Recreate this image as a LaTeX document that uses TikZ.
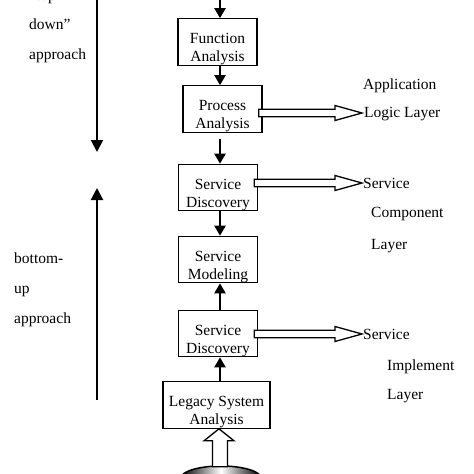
\documentclass[tikz,border=0pt]{standalone}
\usepackage{fontspec}
\setmainfont{Liberation Serif}
\usetikzlibrary{arrows.meta,calc}

\tikzset{
    box/.style={draw, line width=1.3pt, align=center, inner sep=0pt,
        minimum width=79pt, minimum height=46pt, text height=43pt},
    flow/.style={line width=2.2pt, -{Triangle[length=10pt,width=11pt]}},
    way/.style={line width=2pt, -{Triangle[length=12pt,width=12pt]}},
    hollow/.style={line width=1.3pt, fill=white},
    side/.style={anchor=base west, inner sep=0pt},
}

% wide white arrow from a box to a tip coordinate
\newcommand{\hollowto}[2]{%
    \draw[hollow] let \p1=(#1), \p2=(#2) in
        (\x1-4pt,\y2+3.7pt) -- (\x2-27pt,\y2+3.7pt) -- (\x2-27pt,\y2+7.5pt) -- (\p2)
        -- (\x2-27pt,\y2-7.5pt) -- (\x2-27pt,\y2-3.7pt) -- (\x1-4pt,\y2-3.7pt) -- cycle;}

\begin{document}
\begin{tikzpicture}[x=1pt, y=-1pt, font=\fontsize{15.5}{18}\selectfont]

    \useasboundingbox (0,0) rectangle (474,474);

    % approach arrows on the left
    \coordinate (tdtop) at (97,-10);
    \coordinate (tdend) at (97,152);
    \coordinate (bubot) at (97,400);
    \coordinate (butop) at (97,188);
    \draw[way] (tdtop) -- (tdend);
    \draw[way] (bubot) -- (butop);

    \node[side] (td1) at (29,0) {``top-};
    \node[side] (td2) at (29,29.5) {down''};
    \node[side] (td3) at (29,59.5) {approach};

    \node[side] (bu1) at (14,263) {bottom-};
    \node[side] (bu2) at (14,293) {up};
    \node[side] (bu3) at (14,323) {approach};

    % the boxes
    \node[box] (fa) at (217.5,42) {Function\\Analysis};
    \node[box] (pa) at (222.5,109) {Process\\Analysis};
    \node[box] (sd1) at (218,187.5) {Service\\Discovery};
    \node[box] (sm) at (218,259.5) {Service\\Modeling};
    \node[box] (sd2) at (218,333.5) {Service\\Discovery};
    \node[box, minimum width=107pt] (lsa) at (216.5,405) {Legacy System\\Analysis};

    \coordinate (axis) at (220,0);
    \coordinate (intop) at (220,-10);

    \draw[flow] (intop) -- (fa.north -| axis);
    \draw[flow] (fa.south -| axis) -- (pa.north -| axis);
    \draw[flow, shorten <=6pt] (pa.south -| axis) -- (sd1.north -| axis);
    \draw[flow] (sd1.south -| axis) -- (sm.north -| axis);
    \draw[flow] (sd2.north -| axis) -- (sm.south -| axis);
    \draw[flow] (lsa.north -| axis) -- (sd2.south -| axis);

    % source at the bottom
    \shade[draw=black, line width=1.5pt, left color=black, right color=black, middle color=white]
        (221,478) ellipse [x radius=40pt, y radius=12pt];
    \draw[hollow] let \p1=(lsa.south -| axis) in
        (\x1-1pt,\y1) -- (\x1+14pt,\y1-12pt) -- (\x1+7.5pt,\y1-12pt) -- (\x1+7.5pt,\y1-38pt)
        -- (\x1-7.5pt,\y1-38pt) -- (\x1-7.5pt,\y1-12pt) -- (\x1-16pt,\y1-12pt) -- cycle;

    % layers on the right
    \coordinate (tipa) at (362,113);
    \coordinate (tipb) at (362,183);
    \coordinate (tipc) at (362,334);
    \hollowto{pa.east}{tipa}
    \hollowto{sd1.east}{tipb}
    \hollowto{sd2.east}{tipc}

    \node[side] (app) at (363,89) {Application};
    \node[side] (logic) at (364,117) {Logic Layer};
    \node[side] (sc) at (363,188) {Service};
    \node[side] (comp) at (371,217) {Component};
    \node[side] (scl) at (371,249) {Layer};
    \node[side] (si) at (363,339) {Service};
    \node[side] (impl) at (387,370) {Implement};
    \node[side] (sil) at (387,399) {Layer};

\end{tikzpicture}
\end{document}
